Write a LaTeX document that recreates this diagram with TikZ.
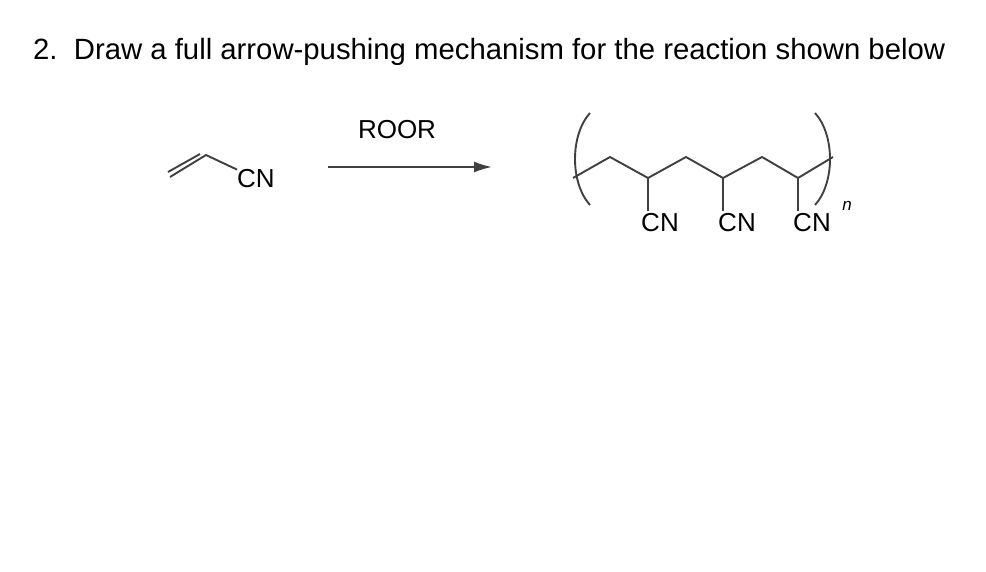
\documentclass[tikz,border=0pt]{standalone}
\usepackage{fontspec}
\usetikzlibrary{calc,arrows.meta}
\setmainfont{Liberation Sans}
\begin{document}
\begin{tikzpicture}[x=1pt,y=-1pt,bond/.style={line width=1.9pt,black!75},
 lbl/.style={inner sep=0pt,font=\fontsize{26}{28}\selectfont}]
\useasboundingbox (0,0) rectangle (986,572);
\node[anchor=west,inner sep=0pt,font=\fontsize{29.3}{32}\selectfont] (title) at (33,52) {2.\ \ Draw a full arrow-pushing mechanism for the reaction shown below};
% monomer
\coordinate (m1) at (170,177);
\coordinate (m2) at (206,155);
\node[lbl] (cn0) at (256,179) {CN};
\draw[bond] (m1)--(m2)--(cn0.north west);
\draw[bond] ($(m1)+(-2,-5)$) -- ($(m2)+(-6,-1)$);
% arrow
\coordinate (a1) at (328,167);
\coordinate (a2) at (492,167);
\draw[bond,-{Latex[length=18pt,width=11pt]}] (a1)--(a2);
\node[lbl] (roor) at (397,130) {ROOR};
% polymer
\foreach \n/\x/\y in {p0/573/178,p1/610/157,p2/648/178,p3/686/157,p4/723/178,p5/762/157,p6/798/178,p7/833/157}
  \coordinate (\n) at (\x,\y);
\draw[bond] (p0)--(p1)--(p2)--(p3)--(p4)--(p5)--(p6)--(p7);
\node[lbl] (c1) at (660,223) {CN};
\node[lbl] (c2) at (737,223) {CN};
\node[lbl] (c3) at (812,223) {CN};
\draw[bond] (p2)--(648,211);
\draw[bond] (p4)--(723,211);
\draw[bond] (p6)--(798,211);
\coordinate (lb1) at (590,113); \coordinate (lb2) at (590,205);
\coordinate (rb1) at (815,113); \coordinate (rb2) at (815,205);
\draw[bond] (lb1) .. controls (570,135) and (570,183) .. (lb2);
\draw[bond] (rb1) .. controls (835,135) and (835,183) .. (rb2);
\node[inner sep=0pt,font=\fontsize{17}{18}\selectfont\itshape] (n) at (847,206) {n};
\end{tikzpicture}
\end{document}
